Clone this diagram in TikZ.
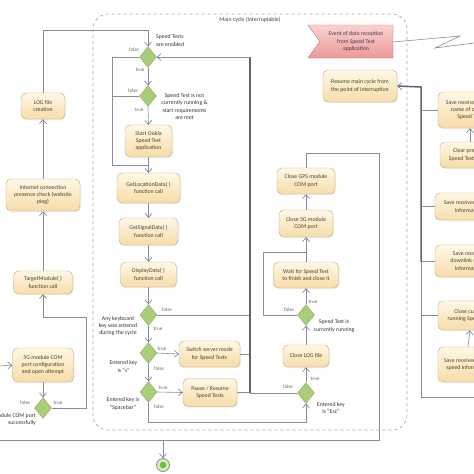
\documentclass[tikz,border=0pt]{standalone}
\usepackage{fontspec}
\setmainfont{Carlito}
\usetikzlibrary{shapes.geometric,arrows.meta,shadows}

\definecolor{boxtop}{HTML}{FFF7E6}
\definecolor{boxbot}{HTML}{F6DDA9}
\definecolor{boxline}{HTML}{C9A970}
\definecolor{boxtext}{HTML}{4E4028}
\definecolor{decfill}{HTML}{A9CD78}
\definecolor{decline}{HTML}{8DAF62}
\definecolor{flowc}{HTML}{858C9C}
\definecolor{tipc}{HTML}{6C7BA6}
\definecolor{thickc}{HTML}{5F6470}
\definecolor{evtop}{HTML}{FAD2D2}
\definecolor{evbot}{HTML}{EC9898}
\definecolor{evline}{HTML}{C46A6A}

\begin{document}
\begin{tikzpicture}[x=1pt,y=-1pt,
  font=\fontsize{5.8}{7.4}\selectfont,
  act/.style={draw=boxline, rounded corners=5pt, top color=boxtop, bottom color=boxbot, text=boxtext, align=center, inner sep=1pt, drop shadow={opacity=0.15, shadow xshift=1pt, shadow yshift=-1pt}},
  dec/.style={diamond, draw=decline, fill=decfill, minimum width=17pt, minimum height=21pt, inner sep=0pt},
  conn/.style={draw=flowc, line width=0.6pt},
  flow/.style={conn, -{Straight Barb[length=4pt, width=7pt, color=tipc]}},
  loopline/.style={draw=thickc, line width=1.5pt},
  tf/.style={text=black!60, font=\fontsize{5.2}{6}\selectfont, inner sep=0pt},
  cond/.style={text=black!80, align=center, inner sep=0pt},
  regionbox/.style={draw=black!35, dashed, line width=0.7pt, rounded corners=15pt}]

\useasboundingbox (0,0) rectangle (474,474);
\clip (0,0) rectangle (474,474);

\draw[regionbox] (93,14) rectangle (407,430);
\node[text=black!75] (regionlbl) at (250,20) {Main cycle (interruptable)};

\node[act, minimum width=44pt, minimum height=26pt] (logf) at (43,106) {LOG file\\creation};
\node[act, minimum width=74pt, minimum height=32pt] (inet) at (43,195) {Internet connection\\presence check (website\\ping)};
\node[act, minimum width=59pt, minimum height=23pt] (target) at (43,282.5) {TargetModule( )\\function call};
\node[act, minimum width=61pt, minimum height=34pt] (comcfg) at (43,365) {5G module COM\\port configuration\\and open attempt};
\node[dec] (comok) at (43,408) {};
\node[cond, anchor=north east, align=right] (comoklbl) at (36,413) {Opened 5G module COM port\\successfully};

\node[dec] (enab) at (148,57) {};
\node[dec] (ready) at (148,96) {};
\node[act, minimum width=47pt, minimum height=32pt] (ookla) at (148.5,141) {Start Ookla\\Speed Test\\application};
\node[act, minimum width=63pt, minimum height=30pt] (getloc) at (148.5,188) {GetLocationData( )\\function call};
\node[act, minimum width=59pt, minimum height=27pt] (getsig) at (148.5,231.5) {GetSignalData( )\\function call};
\node[act, minimum width=56pt, minimum height=25pt] (disp) at (148.5,274.5) {DisplayData( )\\function call};
\node[dec] (anykey) at (148.5,315) {};
\node[dec] (keys) at (148.5,353) {};
\node[dec] (keyspace) at (148.5,392) {};
\node[act, minimum width=61pt, minimum height=26pt] (switch) at (209.5,354) {Switch server mode\\for Speed Tests};
\node[act, minimum width=54pt, minimum height=28pt] (pause) at (210,392.5) {Pause / Resume\\Speed Tests};

\node[cond, anchor=west, align=left] (enablbl) at (156,40.5) {Speed Tests\\are enabled};
\node[cond] (readylbl) at (184.5,106.5) {Speed Test is not\\currently running \&\\start requirements\\are met};
\node[cond] (anykeylbl) at (118,326) {Any keyboard\\key was entered\\during the cycle};
\node[cond] (keyslbl) at (123.5,366.5) {Entered key\\is ``s''};
\node[cond] (keyspacelbl) at (123,404) {Entered key is\\``Spacebar''};

\node[dec] (keyesc) at (306,393) {};
\node[act, minimum width=46pt, minimum height=22pt] (closelog) at (306,356) {Close LOG file};
\node[dec] (running) at (306,315) {};
\node[act, minimum width=65pt, minimum height=26pt] (wait) at (306,275) {Wait for Speed Test\\to finish and close it};
\node[act, minimum width=54pt, minimum height=27pt] (close5g) at (306,223.5) {Close 5G module\\COM port};
\node[act, minimum width=58pt, minimum height=26pt] (closegps) at (306,181) {Close GPS module\\COM port};
\node[cond] (keyesclbl) at (331,408) {Entered key\\is ``Esc''};
\node[cond] (runninglbl) at (334,326) {Speed Test is\\currently running};

\node[circle, draw=black!45, fill=green!50!olive!25, line width=0.8pt, minimum size=13pt, inner sep=0pt] (final) at (163,465) {};
\fill[green!40!olive!80] (final) circle (3.3pt);

\draw[draw=evline, top color=evtop, bottom color=evbot] (308,25) -- (393,25) -- (393,58) -- (308,58) -- (320,41.5) -- cycle;
\node[text=black!75, align=center] (event) at (356,41.5) {Event of data reception\\from Speed Test\\application};
\node[act, minimum width=74pt, minimum height=32pt] (resume) at (360,86) {Resume main cycle from\\the point of interruption};

\node[act, minimum width=64pt, minimum height=36pt] (svname) at (470,110) {Save received server\\name of current\\Speed Test};
\node[act, minimum width=60pt, minimum height=26pt] (clrprev) at (470,155) {Clear previous\\Speed Test results};
\node[act, minimum width=68pt, minimum height=27pt] (svlat) at (469,206.5) {Save received latency\\information};
\node[act, minimum width=68pt, minimum height=32pt] (svdown) at (469,261) {Save received\\downlink speed\\information};
\node[act, minimum width=64pt, minimum height=29pt] (closecur) at (470,315.5) {Close current\\running Speed Test};
\node[act, minimum width=60pt, minimum height=35pt] (svup) at (468,364.5) {Save received uplink\\speed information};

\coordinate (inleft) at (0,366);
\coordinate (outleft) at (0,440);
\coordinate (join) at (163,440);
\coordinate (loopup) at (250,57);
\coordinate (handlerin) at (474,397);

\draw[flow] (inleft) -- (comcfg.west);
\draw[flow] (comcfg.south) -- (comok.north);
\draw[flow] (comok.east) -- (86,408) -- (86,317) -- (43,317) -- (target.south);
\draw[flow] (target.north) -- (inet.south);
\draw[flow] (inet.north) -- (logf.south);
\draw[flow] (logf.north) -- (43,30) -| (enab.north);
\node[tf] at (25,403) {false};
\node[tf] at (58,403) {true};

\draw[flow] (enab.south) -- (ready.north);
\draw[flow] (ready.south) -- (ookla.north);
\draw[conn] (enab.west) -- (112,57) -- (112,165) -- (148.5,165);
\draw[conn] (ready.west) -- (112,96);
\draw[flow] (ookla.south) -- (getloc.north);
\draw[flow] (getloc.south) -- (getsig.north);
\draw[flow] (getsig.south) -- (disp.north);
\draw[flow] (disp.south) -- (anykey.north);
\draw[flow] (anykey.south) -- (keys.north);
\draw[flow] (keys.south) -- (keyspace.north);
\draw[flow] (keys.east) -- (switch.west);
\draw[flow] (keyspace.east) -- (pause.west);
\draw[conn] (anykey.east) -- (250,315);
\draw[conn] (switch.east) -- (250,354);
\draw[conn] (pause.east) -- (250,392.5);
\draw[conn] (keyesc.west) -- (250,393);
\draw[loopline] (250,393) -- (loopup);
\draw[flow] (loopup) -- (enab.east);
\draw[flow] (keyspace.south) -- (148.5,422) -| (keyesc.south);
\node[tf] at (134,50) {false};
\node[tf] at (140,70) {true};
\node[tf] at (133,91) {false};
\node[tf] at (139,110) {true};
\node[tf] at (167,310) {false};
\node[tf] at (158,329) {true};
\node[tf] at (162,349) {true};
\node[tf] at (159,369) {false};
\node[tf] at (163,388) {true};
\node[tf] at (159,407) {false};

\draw[flow] (keyesc.north) -- (closelog.south);
\draw[flow] (closelog.north) -- (running.south);
\draw[flow] (running.north) -- (wait.south);
\draw[conn] (running.west) -- (263,315) -- (263,252) -- (306,252);
\draw[flow] (wait.north) -- (close5g.south);
\draw[flow] (close5g.north) -- (closegps.south);
\draw[conn] (closegps.north) -- (306,153) -- (379,153) -- (379,440) -- (join);
\draw[conn] (outleft) -- (join);
\draw[flow] (join) -- (final.north);
\node[tf] at (315,379) {true};
\node[tf] at (288,387) {false};
\node[tf] at (313,302) {true};
\node[tf] at (289,310) {false};

\draw[conn] (393,42) -- (460,36) -- (435,48) -- (474,43);
\draw[loopline, -{Straight Barb[length=4pt, width=7pt, line width=0.7pt, color=tipc]}] (421,262) -- (421,87) -- (resume.east);
\draw[conn] (handlerin) -- (421,397) -- (421,262);
\draw[conn] (svname.west) -- (421,110);
\draw[flow] (clrprev.north) -- (svname.south);
\draw[conn] (svlat.west) -- (421,206.5);
\draw[conn] (svdown.west) -- (421,261);
\draw[conn] (closecur.west) -- (421,315.5);
\draw[flow] (svup.north) -- (closecur.south);
\end{tikzpicture}
\end{document}
